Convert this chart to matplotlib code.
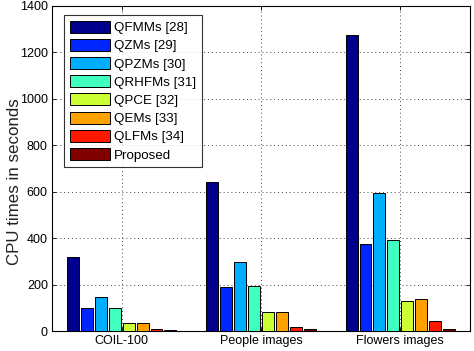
import numpy as np
import matplotlib
matplotlib.use("Agg")
import matplotlib.pyplot as plt

plt.rcParams['font.family'] = ['Liberation Sans', 'DejaVu Sans']

categories = ["COIL-100", "People images", "Flowers images"]
methods = ["QFMMs [28]", "QZMs [29]", "QPZMs [30]", "QRHFMs [31]",
           "QPCE [32]", "QEMs [33]", "QLFMs [34]", "Proposed"]
qfmms = [319, 640, 1277]
qzms = [98, 190, 375]
qpzms = [147, 298, 594]
qrhfms = [97, 194, 390]
qpce = [36, 81, 131]
qems = [36, 81, 137]
qlfms = [10, 19, 41]
proposed = [4, 8, 8]
series = [qfmms, qzms, qpzms, qrhfms, qpce, qems, qlfms, proposed]
yticks = [0, 200, 400, 600, 800, 1000, 1200, 1400]

colors = ['#00008C', '#0026FF', '#00AEFF', '#40FFC0',
          '#CCFF33', '#FFA200', '#FF1800', '#800000']

fig = plt.figure(figsize=(4.74, 3.51), dpi=100)
ax = fig.add_axes([52/474, 1-331/351, (470-52)/474, (331-6)/351])

x = np.arange(1, len(categories)+1)
n = len(series)
slot = 0.1
bw = 0.086
for i, (vals, lab) in enumerate(zip(series, methods)):
    off = (i - (n-1)/2) * slot
    ax.bar(x + off, vals, width=bw, color=colors[i], edgecolor='black',
           linewidth=0.7, label=lab, zorder=3)

ax.set_xlim(0.5, 3.5)
ax.set_ylim(0, 1400)
ax.set_xticks(x)
ax.set_xticklabels(categories, fontsize=9)
ax.set_yticks(yticks)
ax.set_yticklabels([str(v) for v in yticks], fontsize=9)
ax.set_ylabel("CPU times in seconds", fontsize=12.2, color='#222222')
ax.yaxis.set_label_coords(-0.072, 0.46)
ax.tick_params(direction='in', top=True, right=True, length=3, width=0.6, pad=3)
ax.grid(True, linestyle=(0, (1, 3)), color='#444444', linewidth=0.7, zorder=0)
ax.set_axisbelow(True)
for s in ax.spines.values():
    s.set_linewidth(0.8)

leg = ax.legend(loc='upper left', bbox_to_anchor=(64/474, 1-15/351),
                bbox_transform=fig.transFigure, borderaxespad=0,
                fontsize=9.6, frameon=True, fancybox=False, edgecolor='black',
                handlelength=3.0, handleheight=1.0, handletextpad=0.35,
                labelspacing=0.35, borderpad=0.42)
leg.get_frame().set_linewidth(0.8)
leg.set_zorder(5)

fig.savefig("out.png", dpi=100)
